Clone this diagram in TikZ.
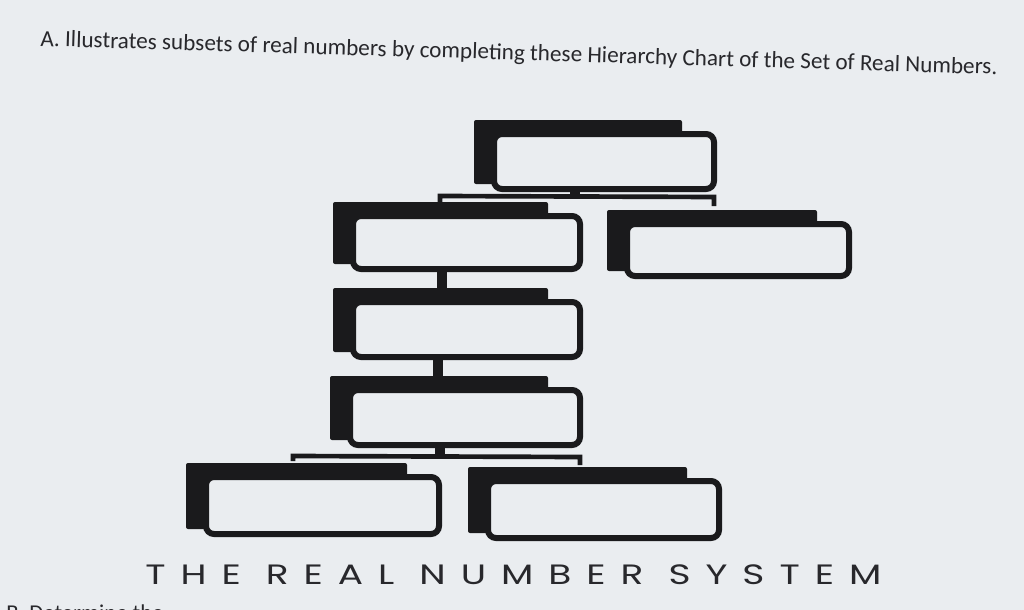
\documentclass[tikz,border=0pt]{standalone}
\usepackage{fontspec}
\setmainfont{Carlito}
\newfontfamily\titlefont[LetterSpace=40]{Poppins}
\usetikzlibrary{fit,calc}
\definecolor{paper}{RGB}{234,237,240}
\definecolor{ink}{RGB}{26,26,28}
\definecolor{txt}{RGB}{40,40,44}
\newcommand{\chartbox}[5]{%
  \fill[ink, rounded corners=1.5pt] (#2,#3) rectangle ({#4-32},{#5-5});
  \node[outline, fit={({#2+20},{#3+14}) (#4,#5)}] (#1) {};}
\begin{document}
\begin{tikzpicture}[x=0.75pt,y=-0.75pt,
  outline/.style={draw=ink, line width=4.5pt, rounded corners=6pt, inner sep=0pt, fill=paper},
  wire/.style={draw=ink, line width=3.5pt},
  stub/.style={draw=ink, line width=7pt}]
\fill[paper] (0,0) rectangle (1024,610);
\useasboundingbox (0,0) rectangle (1024,610);

% heading
\node[anchor=base west, rotate=-1.7, inner sep=0pt, text=txt] (head) at (40,46)
  {\resizebox{718pt}{!}{A. Illustrates subsets of real numbers by completing these Hierarchy Chart of the Set of Real Numbers.}};

% boxes
\chartbox{top}{474}{120}{714}{189}
\chartbox{lA}{333}{202}{580}{269}
\chartbox{rA}{607}{210}{849}{276}
\chartbox{mB}{333}{288}{580}{357}
\chartbox{mC}{330}{376}{580}{445}
\chartbox{lD}{186}{463}{439}{534}
\chartbox{rD}{468}{467}{719}{538}

% upper bar
\coordinate (j1) at (575,196);
\coordinate (bl1) at (440,196);
\coordinate (br1) at (714,197);
\draw[stub] (top.south -| j1) -- (j1);
\draw[wire] ($(bl1)+(0,6)$) -- (bl1) -- (br1) -- ($(br1)+(0,9)$);

% stubs
\coordinate (s1) at (442,0);
\coordinate (s2) at (438,0);
\draw[stub] (lA.south -| s1) -- (mB.north -| s1);
\draw[stub] (mB.south -| s2) -- (mC.north -| s2);

% lower bar
\coordinate (j2) at (440,456);
\coordinate (bl2) at (293,456);
\coordinate (br2) at (580,457);
\draw[stub] (mC.south -| j2) -- (j2);
\draw[wire] ($(bl2)+(0,5)$) -- (bl2) -- (br2) -- ($(br2)+(0,8)$);

% title
\node[anchor=base west, inner sep=0pt, text=txt] (title) at (145,584)
  {\scalebox{1.34}[1]{\titlefont\fontsize{21}{21}\selectfont THE\hspace{14pt}REAL\hspace{14pt}NUMBER\hspace{14pt}SYSTEM}};

% cut-off next line
\node[anchor=base west, inner sep=0pt, text=txt] (next) at (6,620)
  {\fontsize{17}{17}\selectfont B. Determine the};
\end{tikzpicture}
\end{document}
